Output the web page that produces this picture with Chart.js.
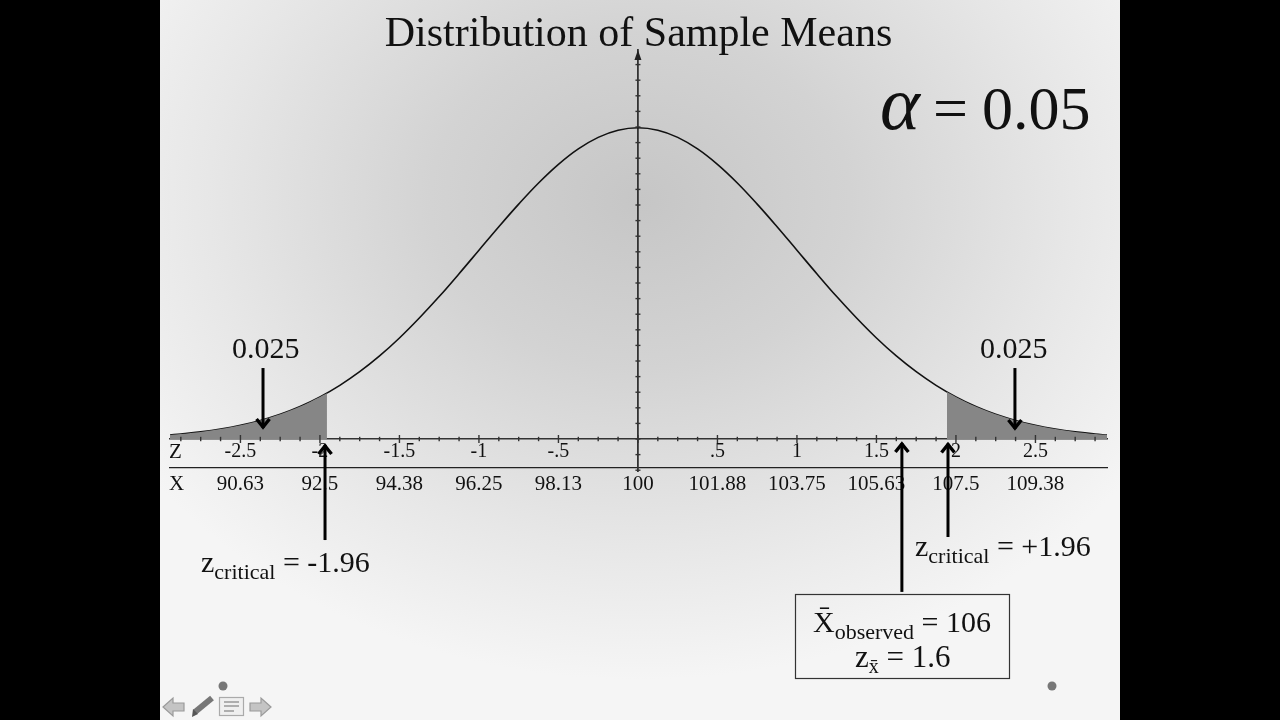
<!DOCTYPE html>
<html>
<head>
<meta charset="utf-8">
<script src="https://cdn.jsdelivr.net/npm/chart.js@4"></script>
<style>
html,body{margin:0;padding:0;background:#000;width:1280px;height:720px;overflow:hidden}
#slide{position:absolute;left:160px;top:0;width:960px;height:720px;
background:radial-gradient(ellipse 600px 480px at 480px 200px,#c6c6c6 0%,#d3d3d3 35%,#e7e7e7 72%,#f5f5f5 100%)}
canvas{position:absolute;left:0;top:0}
</style>
</head>
<body>
<div id="slide"></div>
<canvas id="c" width="1280" height="720"></canvas>
<script>
const curveZ = [-2.943,-2.875,-2.75,-2.625,-2.5,-2.375,-2.25,-2.125,-2,-1.875,-1.75,-1.625,-1.5,-1.375,-1.25,-1.125,-1,-0.875,-0.75,-0.625,-0.5,-0.375,-0.25,-0.125,0,0.125,0.25,0.375,0.5,0.625,0.75,0.875,1,1.125,1.25,1.375,1.5,1.625,1.75,1.875,2,2.125,2.25,2.375,2.5,2.625,2.75,2.875,2.95];
const curveY = [0.0052,0.0064,0.0091,0.0127,0.0175,0.0238,0.0317,0.0417,0.054,0.0688,0.0863,0.1065,0.1295,0.1551,0.1826,0.2119,0.242,0.2721,0.3011,0.3282,0.3521,0.3719,0.3867,0.3958,0.399,0.3958,0.3867,0.3719,0.3521,0.3282,0.3011,0.2721,0.242,0.2119,0.1826,0.1551,0.1295,0.1065,0.0863,0.0688,0.054,0.0417,0.0317,0.0238,0.0175,0.0127,0.0091,0.0064,0.0051];
const leftTailZ = [-2.943,-2.875,-2.75,-2.625,-2.5,-2.375,-2.25,-2.125,-2,-1.956];
const leftTailY = [0.0052,0.0064,0.0091,0.0127,0.0175,0.0238,0.0317,0.0417,0.054,0.0587];
const rightTailZ = [1.943,2,2.125,2.25,2.375,2.5,2.625,2.75,2.875,2.95];
const rightTailY = [0.0604,0.054,0.0417,0.0317,0.0238,0.0175,0.0127,0.0091,0.0064,0.0051];
const zTicks = [-2.5,-2,-1.5,-1,-0.5,0,0.5,1,1.5,2,2.5];
const zLabels = ['-2.5','-2','-1.5','-1','-.5','','.5','1','1.5','2','2.5'];
const xLabels = ['90.63','92.5','94.38','96.25','98.13','100','101.88','103.75','105.63','107.5','109.38'];
const arrowZ = [-2.358,2.371,-1.968,1.95,1.66];
const arrowFrom = [0.091,0.091,-0.1295,-0.1256,-0.196];
const arrowTo = [0.0115,0.0103,-0.0051,-0.0032,-0.0026];

const SERIF = '"Liberation Serif", serif';
function pts(xs, ys){ return xs.map((x,i)=>({x, y:ys[i]})); }
function lab(labels){ return v => { const i = zTicks.indexOf(v); return i < 0 ? '' : labels[i]; }; }

const slideArt = {
  id:'slideArt',
  afterDraw(chart){
    const ctx = chart.ctx, sx = chart.scales.x, sy = chart.scales.y;
    ctx.save();
    // centred tick marks on both axes
    ctx.strokeStyle = '#333'; ctx.lineWidth = 1.4;
    sx.ticks.forEach(t=>{
      const p = sx.getPixelForValue(t.value), h = zTicks.includes(t.value) ? 4 : 2.2;
      const y0 = sy.getPixelForValue(0);
      ctx.beginPath(); ctx.moveTo(p,y0-h); ctx.lineTo(p,y0+h); ctx.stroke();
    });
    sy.ticks.forEach(t=>{
      const p = sy.getPixelForValue(t.value), x0 = sx.getPixelForValue(0);
      ctx.beginPath(); ctx.moveTo(x0-2.5,p); ctx.lineTo(x0+2.5,p); ctx.stroke();
    });
    // axis arrowhead
    const ax = sx.getPixelForValue(0), ay = sy.top;
    ctx.fillStyle = '#222';
    ctx.beginPath(); ctx.moveTo(ax,ay); ctx.lineTo(ax-3.5,ay+10); ctx.lineTo(ax+3.5,ay+10); ctx.closePath(); ctx.fill();
    // arrows
    ctx.strokeStyle = '#000'; ctx.lineJoin = 'miter';
    arrowZ.forEach((z,i)=>{
      const x = sx.getPixelForValue(z), a = sy.getPixelForValue(arrowFrom[i]), b = sy.getPixelForValue(arrowTo[i]);
      const d = b > a ? 1 : -1;
      ctx.lineWidth = 3;
      ctx.beginPath(); ctx.moveTo(x,a); ctx.lineTo(x,b-d*2); ctx.stroke();
      ctx.lineWidth = 3.4;
      ctx.beginPath(); ctx.moveTo(x-6.5,b-d*11); ctx.lineTo(x,b-d*3); ctx.lineTo(x+6.5,b-d*11); ctx.stroke();
    });
    // text
    ctx.fillStyle = '#111'; ctx.textBaseline = 'alphabetic'; ctx.textAlign = 'left';
    const run = (x,y,parts)=>{
      parts.forEach(([s,size,dy,style])=>{
        ctx.font = (style||'') + ' ' + size + 'px ' + SERIF;
        ctx.fillText(s,x,y+(dy||0));
        x += ctx.measureText(s).width;
      });
    };
    run(232,358,[['0.025',30]]);
    run(980,358,[['0.025',30]]);
    run(880,129,[['α',76,0,'italic']]);
    run(933,129,[['=',62]]);
    run(982,129,[['0.05',62]]);
    run(169,458,[['Z',21]]);
    run(169,490,[['X',21]]);
    run(201,572,[['z',30],['critical',22,7],[' = -1.96',30]]);
    run(915,556,[['z',30],['critical',22,7],[' = +1.96',30]]);
    // observed box
    ctx.strokeStyle = '#333'; ctx.lineWidth = 1.2;
    ctx.strokeRect(795.5,594.5,214,84);
    run(813,632,[['X\u0304',30],['observed',22,7],[' = 106',30]]);
    run(855,667,[['z',31],['x\u0304',20,6],[' = 1.6',31]]);
    // slide dots
    ctx.fillStyle = '#777';
    [[223,686],[1052,686]].forEach(([x,y])=>{ ctx.beginPath(); ctx.arc(x,y,4.5,0,Math.PI*2); ctx.fill(); });
    // viewer controls
    const arrow = (x,dir)=>{
      ctx.fillStyle = '#c4c4c4'; ctx.strokeStyle = '#9a9a9a'; ctx.lineWidth = 1.2;
      const y = 707, p = [[0,0],[10,-9],[10,-4],[21,-4],[21,4],[10,4],[10,9]];
      ctx.beginPath();
      p.forEach(([a,b],i)=>{ const X = x+dir*a, Y = y+b; i ? ctx.lineTo(X,Y) : ctx.moveTo(X,Y); });
      ctx.closePath(); ctx.fill(); ctx.stroke();
    };
    arrow(163,1); arrow(271,-1);
    ctx.strokeStyle = '#777'; ctx.lineWidth = 6; ctx.lineCap = 'butt';
    ctx.beginPath(); ctx.moveTo(195,712); ctx.lineTo(212,698); ctx.stroke();
    ctx.fillStyle = '#555';
    ctx.beginPath(); ctx.moveTo(192,717); ctx.lineTo(193,709); ctx.lineTo(198,714); ctx.closePath(); ctx.fill();
    ctx.fillStyle = '#efefef'; ctx.strokeStyle = '#aaa'; ctx.lineWidth = 1.2;
    ctx.fillRect(219.5,697.5,24,18); ctx.strokeRect(219.5,697.5,24,18);
    ctx.strokeStyle = '#999'; ctx.lineWidth = 1.5;
    [702,706,711].forEach((y,i)=>{ ctx.beginPath(); ctx.moveTo(224,y); ctx.lineTo(i==2?234:239,y); ctx.stroke(); });
    ctx.restore();
  }
};

new Chart(document.getElementById('c'),{
  type:'scatter',
  data:{datasets:[
    {data:pts(leftTailZ,leftTailY),showLine:true,fill:'origin',backgroundColor:'#868686',borderWidth:0,pointRadius:0,tension:0.3},
    {data:pts(rightTailZ,rightTailY),showLine:true,fill:'origin',backgroundColor:'#868686',borderWidth:0,pointRadius:0,tension:0.3},
    {data:pts(curveZ,curveY),showLine:true,fill:false,borderColor:'#111',borderWidth:1.6,pointRadius:0,tension:0.4}
  ]},
  options:{
    responsive:false,animation:false,devicePixelRatio:1,
    layout:{padding:{left:170,right:173,top:0,bottom:249}},
    plugins:{
      legend:{display:false},tooltip:{enabled:false},
      title:{display:true,text:'Distribution of Sample Means',color:'#111',
        font:{family:SERIF,size:42,weight:'normal',lineHeight:1},padding:{top:14,bottom:-6}}
    },
    scales:{
      x:{type:'linear',min:-2.943,max:2.95,position:{y:0},
        border:{color:'#333',width:1.6},
        grid:{drawOnChartArea:false,drawTicks:false},
        ticks:{stepSize:0.125,includeBounds:false,autoSkip:false,maxRotation:0,minRotation:0,padding:1,color:'#111',
          font:{family:SERIF,size:20},callback:lab(zLabels)}},
      x2:{type:'linear',axis:'x',min:-2.943,max:2.95,position:{y:-0.0372},
        border:{color:'#222',width:1.2},
        grid:{drawOnChartArea:false,drawTicks:false},
        ticks:{stepSize:0.5,includeBounds:false,autoSkip:false,maxRotation:0,minRotation:0,padding:4,color:'#111',
          font:{family:SERIF,size:21},callback:lab(xLabels)}},
      y:{type:'linear',min:-0.041,max:0.4987,position:{x:0},
        border:{color:'#333',width:1.8},
        grid:{drawOnChartArea:false,drawTicks:false},
        ticks:{stepSize:0.02,includeBounds:false,display:false}}
    }
  },
  plugins:[slideArt]
});
</script>
</body>
</html>
